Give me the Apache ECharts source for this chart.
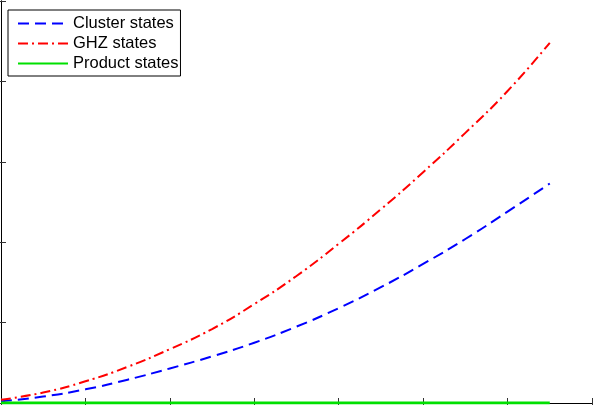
<!DOCTYPE html>
<html>
<head>
<meta charset="utf-8">
<script src="https://cdn.jsdelivr.net/npm/echarts@6/dist/echarts.min.js"></script>
<style>
  html, body { margin: 0; padding: 0; background: #fff; }
  #chart { width: 594px; height: 405px; }
</style>
</head>
<body>
<div id="chart"></div>
<script>
// x positions
var xs = [0, 0.5, 1, 1.5, 2, 2.5, 3, 3.5, 4, 4.5, 5, 5.5, 6, 6.5];
var cluster = [0.02, 0.08, 0.17, 0.29, 0.43, 0.58, 0.75, 0.95, 1.18, 1.44, 1.73, 2.04, 2.38, 2.73];
var ghz = [0.04, 0.13, 0.27, 0.45, 0.67, 0.92, 1.23, 1.58, 1.98, 2.41, 2.87, 3.36, 3.88, 4.48];
var product = [0, 0, 0, 0, 0, 0, 0, 0, 0, 0, 0, 0, 0, 0];

function pairs(ys) {
    return xs.map(function (x, i) { return [x, ys[i]] })
}

var tick = { show: true, inside: true, length: 5, lineStyle: { color: '#333', width: 1 } }
var line = { lineStyle: { color: '#000', width: 1 } }

function xAx(pos) {
    return {
        type: 'value', position: pos, min: 0, max: 7, interval: 1,
        axisLine: line, axisTick: tick, axisLabel: { show: false }, splitLine: { show: false }
    }
}
function yAx(pos) {
    return {
        type: 'value', position: pos, min: 0, max: 5, interval: 1,
        axisLine: line, axisTick: tick, axisLabel: { show: false }, splitLine: { show: false }
    }
}

var myChart = echarts.init(document.getElementById('chart'))
myChart.setOption({
    animation: false,
    grid: { left: 1, top: 1, right: 2, bottom: 2 },
    xAxis: [xAx('bottom'), xAx('top')],
    yAxis: [yAx('left'), yAx('right')],
    legend: {
        orient: 'vertical',
        left: 8,
        top: 10,
        padding: [5, 2, 4, 9],
        itemWidth: 50,
        itemHeight: 17,
        itemGap: 3,
        borderColor: '#000',
        borderWidth: 1,
        borderRadius: 0,
        backgroundColor: '#fff',
        itemStyle: { opacity: 0 },
        textStyle: {
            fontFamily: 'Liberation Sans',
            fontSize: 16.5,
            lineHeight: 17,
            color: '#000'
        },
        data: ['Cluster states', 'GHZ states', 'Product states']
    },
    series: [
        {
            name: 'Cluster states', type: 'line', smooth: true, symbol: 'none',
            data: pairs(cluster),
            lineStyle: { color: '#0000ff', width: 2, type: [11, 6] },
            itemStyle: { color: '#0000ff' }
        },
        {
            name: 'GHZ states', type: 'line', smooth: true, symbol: 'none',
            data: pairs(ghz),
            lineStyle: { color: '#ff0000', width: 2, type: [10, 4, 2, 4] },
            itemStyle: { color: '#ff0000' }
        },
        {
            name: 'Product states', type: 'line', symbol: 'none',
            data: pairs(product),
            lineStyle: { color: '#00e000', width: 3 },
            itemStyle: { color: '#00e000' }
        }
    ]
})
</script>
</body>
</html>
